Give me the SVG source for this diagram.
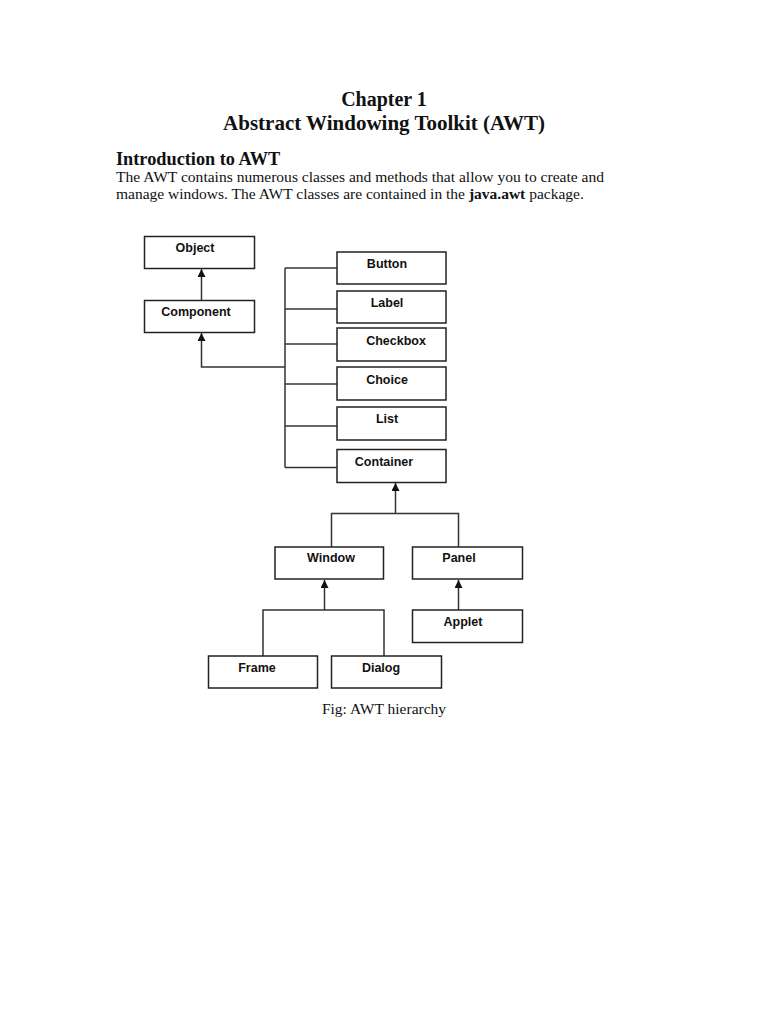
<svg xmlns="http://www.w3.org/2000/svg" width="768" height="1024" viewBox="0 0 768 1024">
<style>
.h{font-family:"Liberation Serif",serif;font-weight:bold;fill:#111}
.b{font-family:"Liberation Serif",serif;font-size:15.5px;fill:#111}
.box{fill:#fff;stroke:#222;stroke-width:1.5}
.lbl{font-family:"Liberation Sans",Arial,sans-serif;font-weight:bold;font-size:12.5px;fill:#111;text-anchor:middle}
.c{fill:none;stroke:#333;stroke-width:1.5}
</style>
<defs>
<marker id="arr" viewBox="0 0 10 10" refX="10" refY="5" markerWidth="8" markerHeight="8" markerUnits="userSpaceOnUse" orient="auto">
<path d="M0,0 L10,5 L0,10 Z" fill="#111"/>
</marker>
</defs>
<rect width="768" height="1024" fill="#fff"/>
<text class="h" x="384" y="106" font-size="20" text-anchor="middle">Chapter 1</text>
<text class="h" x="384" y="130" font-size="21" text-anchor="middle">Abstract Windowing Toolkit (AWT)</text>
<text class="h" x="116" y="165" font-size="18.3">Introduction to AWT</text>
<text class="b" x="116" y="182" textLength="488" lengthAdjust="spacingAndGlyphs">The AWT contains numerous classes and methods that allow you to create and</text>
<text class="b" x="116" y="199">manage windows. The AWT classes are contained in the <tspan font-weight="bold">java.awt</tspan> package.</text>

<g id="connectors">
<line class="c" x1="201.5" y1="300" x2="201.5" y2="269" marker-end="url(#arr)"/>
<polyline class="c" points="285,367 201.5,367 201.5,333" marker-end="url(#arr)"/>
<line class="c" x1="285" y1="268" x2="285" y2="467.5"/>
<line class="c" x1="285" y1="268" x2="337" y2="268"/>
<line class="c" x1="285" y1="309" x2="337" y2="309"/>
<line class="c" x1="285" y1="344" x2="337" y2="344" stroke="#999"/>
<line class="c" x1="285" y1="384" x2="337" y2="384"/>
<line class="c" x1="285" y1="426" x2="337" y2="426"/>
<line class="c" x1="285" y1="467.5" x2="337" y2="467.5"/>
<line class="c" x1="395.5" y1="513.5" x2="395.5" y2="483" marker-end="url(#arr)"/>
<polyline class="c" points="331.5,547 331.5,513.5 458.5,513.5 458.5,547"/>
<line class="c" x1="324.5" y1="610" x2="324.5" y2="580" marker-end="url(#arr)"/>
<polyline class="c" points="263,656 263,610 384,610 384,656"/>
<line class="c" x1="458.5" y1="610" x2="458.5" y2="580" marker-end="url(#arr)"/>
</g>

<g id="object"><rect class="box" x="144.5" y="236.5" width="110" height="32"/><text class="lbl" x="195" y="252">Object</text></g>
<g id="component"><rect class="box" x="144.5" y="300.5" width="110" height="32"/><text class="lbl" x="196" y="316">Component</text></g>
<g id="button"><rect class="box" x="337" y="252" width="109" height="32"/><text class="lbl" x="387" y="268">Button</text></g>
<g id="label"><rect class="box" x="337" y="291" width="109" height="32"/><text class="lbl" x="387" y="307">Label</text></g>
<g id="checkbox"><rect class="box" x="337" y="328" width="109" height="33"/><text class="lbl" x="396" y="345">Checkbox</text></g>
<g id="choice"><rect class="box" x="337" y="367" width="109" height="33"/><text class="lbl" x="387" y="384">Choice</text></g>
<g id="list"><rect class="box" x="337" y="407" width="109" height="33"/><text class="lbl" x="387" y="423">List</text></g>
<g id="container"><rect class="box" x="337" y="449.5" width="109" height="33"/><text class="lbl" x="384" y="466">Container</text></g>
<g id="window"><rect class="box" x="275" y="547" width="108.5" height="32"/><text class="lbl" x="331" y="562">Window</text></g>
<g id="panel"><rect class="box" x="412.5" y="547" width="110" height="32"/><text class="lbl" x="459" y="562">Panel</text></g>
<g id="applet"><rect class="box" x="412.5" y="610" width="110" height="32.5"/><text class="lbl" x="463" y="626">Applet</text></g>
<g id="frame"><rect class="box" x="208.5" y="656" width="109" height="32"/><text class="lbl" x="257" y="672">Frame</text></g>
<g id="dialog"><rect class="box" x="331.5" y="656" width="110" height="32"/><text class="lbl" x="381" y="672">Dialog</text></g>

<text class="b" x="384" y="714" text-anchor="middle">Fig: AWT hierarchy</text>
</svg>
